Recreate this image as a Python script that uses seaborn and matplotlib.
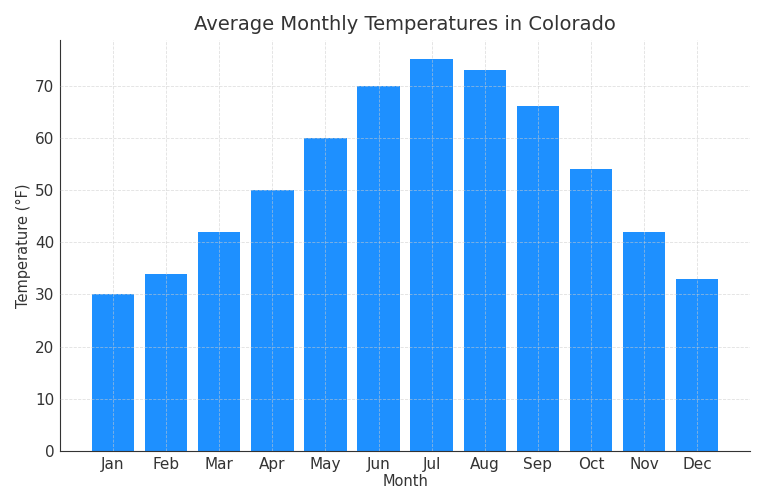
import matplotlib
matplotlib.use("Agg")
import matplotlib.pyplot as plt
import seaborn as sns
import pandas as pd

# Data
months = ["Jan", "Feb", "Mar", "Apr", "May", "Jun",
          "Jul", "Aug", "Sep", "Oct", "Nov", "Dec"]
temps = [30, 34, 42, 50, 60, 70, 75, 73, 66, 54, 42, 33]

df = pd.DataFrame({"Month": months, "Temperature": temps})

sns.set_style("white")
plt.rcParams['font.family'] = ['DejaVu Sans']

fig, ax = plt.subplots(figsize=(7.68, 4.92), dpi=100)
sns.barplot(data=df, x="Month", y="Temperature", color="#1E90FF",
            saturation=1, width=0.8, linewidth=0, ax=ax)

ax.set_axisbelow(False)
ax.grid(True, linestyle="--", color="#cccccc", linewidth=0.6, alpha=0.6)
ax.set_xlim(-1.0, 12.0)
ax.set_ylim(0, 78.75)

for side in ["top", "right"]:
    ax.spines[side].set_visible(False)
ax.spines["left"].set_color("#333333")
ax.spines["bottom"].set_color("#333333")

ax.tick_params(axis="both", colors="#333333", labelsize=11, length=3,
               width=0.8, direction="in", pad=4)
ax.set_title("Average Monthly Temperatures in Colorado", fontsize=14,
             color="#333333", pad=7)
ax.set_xlabel("Month", fontsize=10.5, color="#333333", labelpad=2)
ax.set_ylabel("Temperature (°F)", fontsize=10.5, color="#333333", labelpad=3)

plt.subplots_adjust(left=0.078, right=0.977, bottom=0.083, top=0.919)
plt.savefig("out.png", dpi=100)
